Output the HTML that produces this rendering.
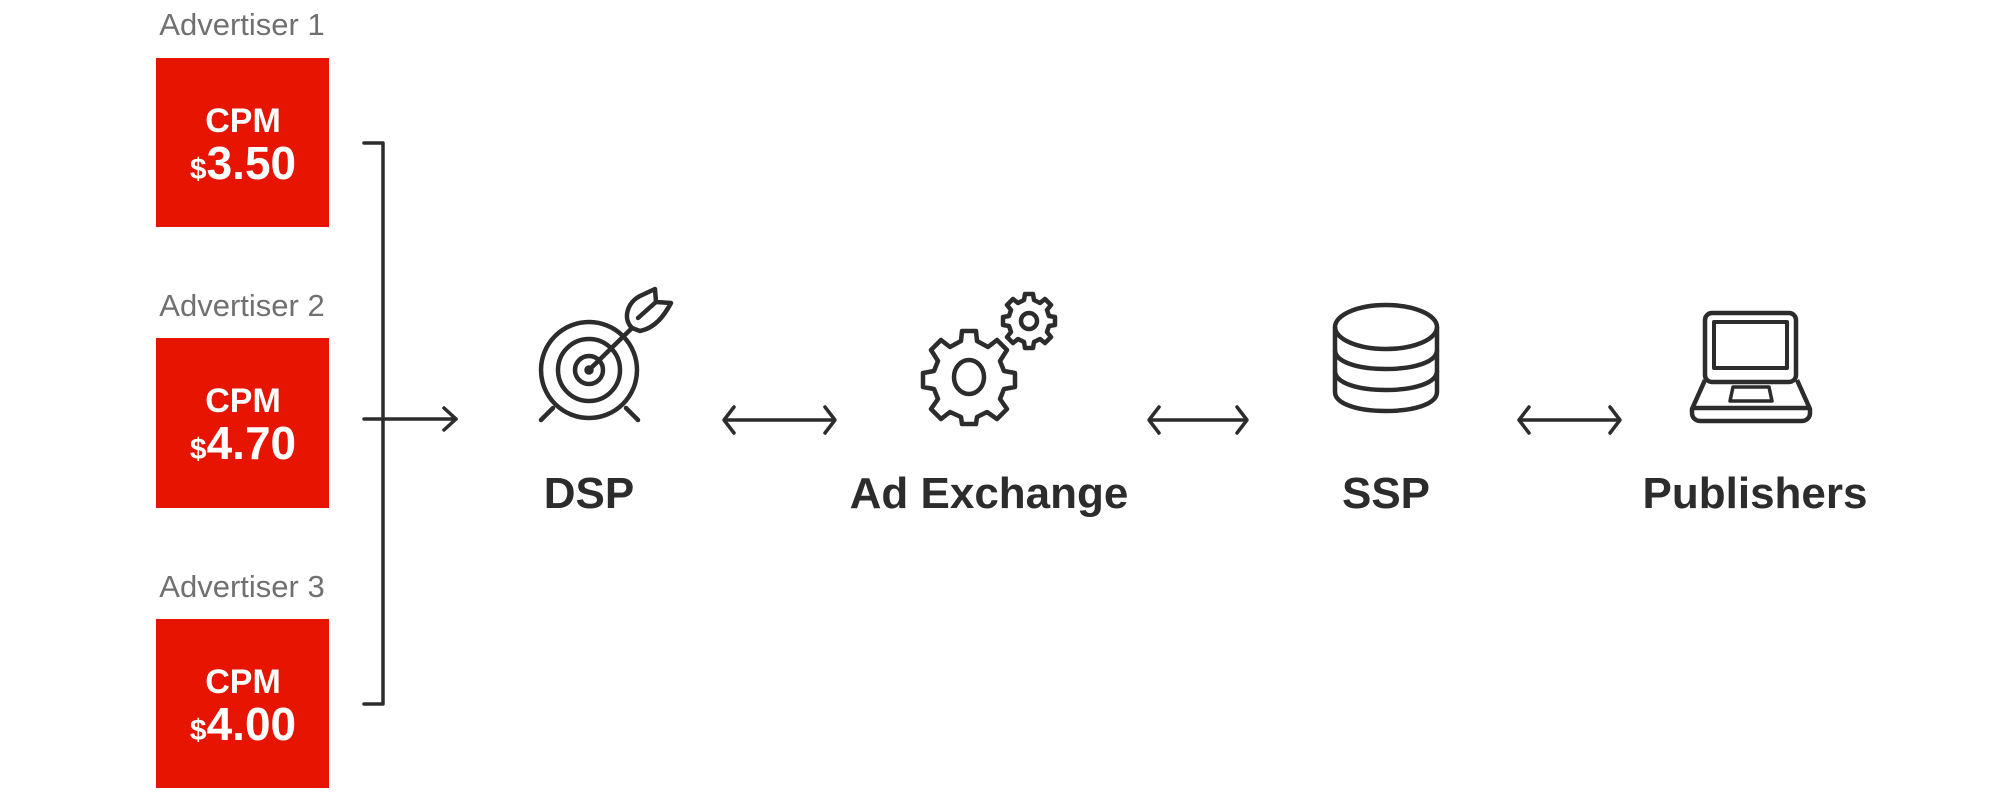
<!DOCTYPE html>
<html><head><meta charset="utf-8"><style>
html,body{margin:0;padding:0;background:#fff;}
svg{display:block}
</style></head><body>
<svg width="2000" height="794" viewBox="0 0 2000 794" xmlns="http://www.w3.org/2000/svg" font-family="Liberation Sans, sans-serif">
<g fill="#707070" font-size="31" text-anchor="middle">
<text x="242" y="35">Advertiser 1</text>
<text x="242" y="316">Advertiser 2</text>
<text x="242" y="597">Advertiser 3</text>
</g>
<g fill="#e61400">
<rect x="156" y="58" width="173" height="169"/>
<rect x="156" y="338" width="173" height="170"/>
<rect x="156" y="619" width="173" height="169"/>
</g>
<g fill="#fff" font-weight="bold" text-anchor="middle">
<text x="243" y="132" font-size="34">CPM</text>
<text x="243" y="179" font-size="46"><tspan font-size="30">$</tspan>3.50</text>
<text x="243" y="412" font-size="34">CPM</text>
<text x="243" y="459" font-size="46"><tspan font-size="30">$</tspan>4.70</text>
<text x="243" y="693" font-size="34">CPM</text>
<text x="243" y="740" font-size="46"><tspan font-size="30">$</tspan>4.00</text>
</g>
<g stroke="#2c2c2c" stroke-width="3.5" fill="none" stroke-linecap="round" stroke-linejoin="round">
<polyline points="364,143 383,143 383,704 364,704"/>
<line x1="364" y1="419" x2="456" y2="419"/>
<polyline points="444,408 456,419 444,430"/>
<line x1="725" y1="420" x2="834" y2="420"/>
<polyline points="734,407 724,420 734,433"/><polyline points="825,407 835,420 825,433"/>
<line x1="1150" y1="420" x2="1246" y2="420"/>
<polyline points="1159,407 1149,420 1159,433"/><polyline points="1237,407 1247,420 1237,433"/>
<line x1="1520" y1="420" x2="1619" y2="420"/>
<polyline points="1529,407 1519,420 1529,433"/><polyline points="1610,407 1620,420 1610,433"/>
</g>
<g stroke="#2c2c2c" stroke-width="4.5" fill="none" stroke-linecap="round" stroke-linejoin="round">
<circle cx="589" cy="370" r="48"/>
<circle cx="589" cy="370" r="31"/>
<circle cx="589" cy="370" r="14"/>
<line x1="553" y1="408" x2="541" y2="420"/>
<line x1="626" y1="408" x2="638" y2="420"/>
<line x1="589" y1="370" x2="632" y2="328"/>
<path d="M632,328 C622,318 628,302 640,296 L655,289 L656,302 L671,303 C664,316 655,328 640,331 Z"/>
<line x1="638" y1="318" x2="656" y2="302"/>
<circle cx="589" cy="370" r="2.5" fill="#2c2c2c"/>
</g>
<g stroke="#2c2c2c" stroke-width="4.5" fill="none" stroke-linejoin="round">
<path d="M962,331 L976,331 L977,341 L988,347 L997,340 L1007,350 L1000,361 L1004,371 L1015,373 L1015,387 L1004,389 L1000,399 L1007,409 L997,419 L987,412 L977,417 L976,424 L962,424 L961,417 L950,412 L941,419 L931,409 L938,399 L934,389 L923,387 L923,373 L934,371 L938,361 L931,350 L941,340 L950,347 L961,341 Z"/>
<ellipse cx="969" cy="377" rx="15" ry="17"/>
<path d="M1025,294 L1033,294 L1034,300 L1040,303 L1045,299 L1051,305 L1047,310 L1049,316 L1055,317 L1055,325 L1049,326 L1047,332 L1051,337 L1045,343 L1040,339 L1034,342 L1033,348 L1025,348 L1024,342 L1018,339 L1013,343 L1007,337 L1011,332 L1009,326 L1003,325 L1003,317 L1009,316 L1011,310 L1007,305 L1013,299 L1018,303 L1024,300 Z"/>
<circle cx="1029" cy="321" r="8"/>
</g>
<g stroke="#2c2c2c" stroke-width="4.5" fill="none">
<ellipse cx="1386" cy="327" rx="51" ry="22"/>
<path d="M1335,327 V392 C1335,404 1358,411 1386,411 C1414,411 1437,404 1437,392 V327"/>
<path d="M1335,350 C1335,362 1358,369 1386,369 C1414,369 1437,362 1437,350"/>
<path d="M1335,371 C1335,383 1358,390 1386,390 C1414,390 1437,383 1437,371"/>
</g>
<g stroke="#2c2c2c" stroke-width="4.5" fill="none" stroke-linejoin="round">
<rect x="1705" y="313" width="91" height="69" rx="7"/>
<rect x="1714" y="322" width="73" height="46" stroke-width="4"/>
<path d="M1705,380 L1692,409 L1692,413 C1692,418 1696,421 1700,421 L1802,421 C1806,421 1810,418 1810,413 L1810,409 L1797,380"/>
<line x1="1692" y1="408" x2="1810" y2="408"/>
<path d="M1733,387 L1769,387 L1772,401 L1730,401 Z" stroke-width="3.5"/>
</g>
<g fill="#2c2c2c" font-weight="bold" font-size="44" text-anchor="middle">
<text x="589" y="508">DSP</text>
<text x="989" y="508">Ad Exchange</text>
<text x="1386" y="508">SSP</text>
<text x="1755" y="508">Publishers</text>
</g>
</svg>
</body></html>
